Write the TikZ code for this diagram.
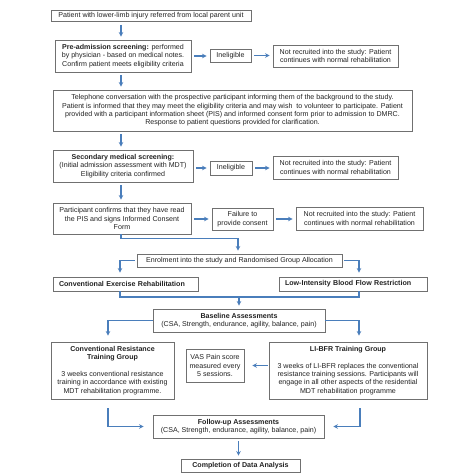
\documentclass[tikz,border=0pt]{standalone}
\usepackage{fontspec}
\setmainfont{Liberation Sans}
\usetikzlibrary{arrows.meta}
\definecolor{boxgray}{HTML}{707070}
\definecolor{arrblue}{HTML}{4A7EBB}
\definecolor{txt}{HTML}{222222}
\begin{document}
\begin{tikzpicture}[x=1pt,y=-1pt,
  box/.style={draw=boxgray, line width=0.9pt, inner sep=0pt, align=center, text=txt,
    font=\fontsize{7.1pt}{8.4pt}\selectfont},
  lbox/.style={box, align=left, inner xsep=6pt},
  conn/.style={draw=arrblue, line width=1.1pt},
  arr/.style={conn, -{Stealth[length=4.5pt,width=4.5pt]}},
  sarr/.style={arr, shorten <=3pt, shorten >=3pt}]
\useasboundingbox[fill=white] (0,0) rectangle (474,474);

\node[box, minimum width=200pt, minimum height=11pt] (b1) at (151,16)
  {Patient with lower-limb injury referred from local parent unit};
\node[box, minimum width=136pt, minimum height=32pt] (b2) at (123,56)
  {\textbf{Pre-admission screening:} performed\\ by physician - based on medical notes.\\ Confirm patient meets eligibility criteria};
\node[box, minimum width=41pt, minimum height=13pt] (i1) at (230.5,55.5) {Ineligible};
\node[box, minimum width=125pt, minimum height=22pt] (n1) at (335.5,56)
  {Not recruited into the study: Patient\\ continues with normal rehabilitation};
\node[box, minimum width=359pt, minimum height=41pt] (b3) at (232.5,110.5)
  {Telephone conversation with the prospective participant informing them of the background to the study.\\
   Patient is informed that they may meet the eligibility criteria and may wish\ \ to volunteer to participate. Patient\\
   provided with a participant information sheet (PIS) and informed consent form prior to admission to DMRC.\\
   Response to patient questions provided for clarification.};
\node[box, minimum width=140pt, minimum height=32pt] (b4) at (123,166)
  {\textbf{Secondary medical screening:}\\ (Initial admission assessment with MDT)\\ Eligibility criteria confirmed};
\node[box, minimum width=42pt, minimum height=14pt] (i2) at (231,168) {Ineligible};
\node[box, minimum width=125pt, minimum height=23pt] (n2) at (335.5,167.5)
  {Not recruited into the study: Patient\\ continues with normal rehabilitation};
\node[box, minimum width=138pt, minimum height=31pt] (b5) at (122,218.5)
  {Participant confirms that they have read\\ the PIS and signs Informed Consent\\ Form};
\node[box, minimum width=61pt, minimum height=22pt] (f) at (242.5,219)
  {Failure to\\ provide consent};
\node[box, minimum width=127pt, minimum height=23pt] (n3) at (359.5,218.5)
  {Not recruited into the study: Patient\\ continues with normal rehabilitation};
\node[box, minimum width=205pt, minimum height=13pt] (b6) at (239.5,260.5)
  {Enrolment into the study and Randomised Group Allocation};
\node[lbox, text width=133pt, minimum height=14pt] (b7) at (125.5,284)
  {\textbf{Conventional Exercise Rehabilitation}};
\node[lbox, text width=136pt, minimum height=14pt] (b8) at (353,284)
  {\textbf{Low-Intensity Blood Flow Restriction}};
\node[box, minimum width=172pt, minimum height=23pt] (b9) at (239,320.5)
  {\textbf{Baseline Assessments}\\ (CSA, Strength, endurance, agility, balance, pain)};
\node[box, minimum width=123pt, minimum height=57pt] (b10) at (112.5,370.5)
  {\textbf{Conventional Resistance}\\ \textbf{Training Group}\\[8.4pt] 3 weeks conventional resistance\\ training in accordance with existing\\ MDT rehabilitation programme.};
\node[box, minimum width=58pt, minimum height=33pt] (vas) at (215,365.5)
  {VAS Pain score\\ measured every\\ 5 sessions.};
\node[box, minimum width=158pt, minimum height=57pt] (b12) at (348,370.5)
  {\textbf{LI-BFR Training Group}\\[8.4pt] 3 weeks of LI-BFR replaces the conventional\\ resistance training sessions. Participants will\\ engage in all other aspects of the residential\\ MDT rehabilitation programme};
\node[box, minimum width=171pt, minimum height=23pt] (b13) at (238.5,426.5)
  {\textbf{Follow-up Assessments}\\ (CSA, Strength, endurance, agility, balance, pain)};
\node[box, minimum width=119pt, minimum height=13pt] (b14) at (240.5,465.5)
  {\textbf{Completion of Data Analysis}};

% vertical arrows
\draw[sarr] ([xshift=-2pt]b2.north |- b1.south) -- ([xshift=-2pt]b2.north);
\draw[sarr] ([xshift=-2pt]b2.south) -- ([xshift=-2pt]b2.south |- b3.north);
\draw[sarr] ([xshift=-2pt]b4.north |- b3.south) -- ([xshift=-2pt]b4.north);
\draw[sarr] ([xshift=-2pt]b4.south) -- ([xshift=-2pt]b4.south |- b5.north);
\draw[arr, shorten >=3pt] ([xshift=-1pt]b5.south) -- ++(0,4) -| ([xshift=-1.5pt]b6.north);
\draw[sarr] (b13.south) -- (b13.south |- b14.north);

% horizontal arrows
\draw[sarr] (b2.east) -- (b2.east -| i1.west);
\draw[sarr] (i1.east) -- (i1.east -| n1.west);
\draw[sarr] (b4.east |- i2.west) -- (i2.west);
\draw[sarr] (i2.east) -- (i2.east -| n2.west);
\draw[sarr] (b5.east |- f.west) -- (f.west);
\draw[sarr] (f.east) -- (f.east -| n3.west);
\draw[arr, shorten <=1pt, shorten >=8pt] (b12.west |- vas.east) -- (vas.east);

% enrolment branches
\draw[arr, shorten <=2pt, shorten >=4pt] (b6.west) -| ([xshift=-5.5pt]b7.north);
\draw[arr, shorten <=2pt, shorten >=4pt] (b6.east) -| ([xshift=6pt]b8.north);
\coordinate (m) at (b9.north |- 0,297);
\draw[conn] ([xshift=-5.5pt]b7.south) |- (m) -| ([xshift=6pt]b8.south);
\draw[arr, shorten >=3pt] (m) -- (b9.north);

% baseline branches
\draw[arr, shorten >=6pt] (b9.west) -| ([xshift=-4.5pt]b10.north);
\draw[arr, shorten >=6pt] (b9.east) -| ([xshift=11pt]b12.north);

% follow-up inputs
\draw[arr] ([shift={(-4.5,9)}]b10.south) |- ([xshift=-9pt]b13.west);
\draw[arr] ([shift={(12,9)}]b12.south) |- ([xshift=9pt]b13.east);
\end{tikzpicture}
\end{document}
